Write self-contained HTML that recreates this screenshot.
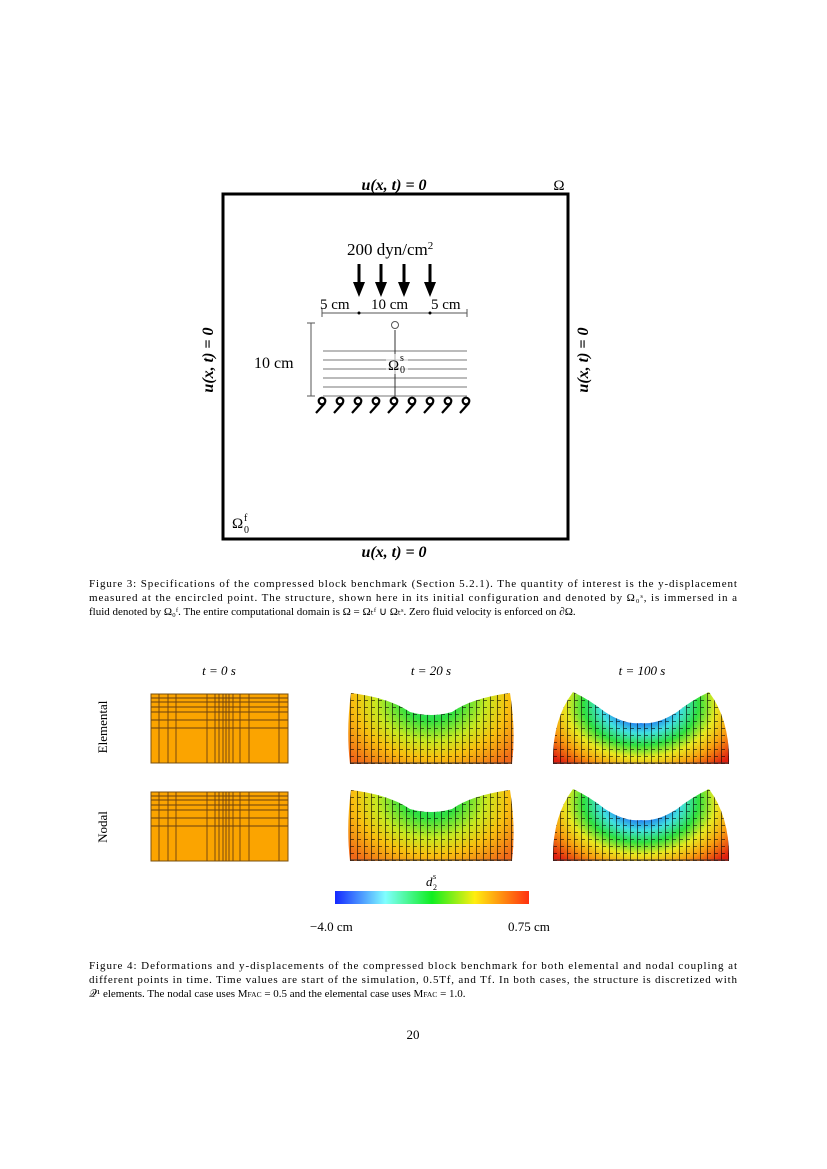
<!DOCTYPE html>
<html><head><meta charset="utf-8"><style>
html,body{margin:0;padding:0;background:#fff}
svg{display:block}
text{font-family:"Liberation Serif",serif;fill:#000}
.cap{font-size:11px}
</style></head><body>
<svg width="827" height="1169" viewBox="0 0 827 1169" xmlns="http://www.w3.org/2000/svg">
<defs>
<linearGradient id="cb" x1="0" x2="1" y1="0" y2="0">
<stop offset="0" stop-color="#1428ff"/><stop offset="0.26" stop-color="#80ffff"/><stop offset="0.5" stop-color="#10ee20"/><stop offset="0.72" stop-color="#ffee10"/><stop offset="1" stop-color="#ff3010"/>
</linearGradient>
<radialGradient id="g20" gradientUnits="userSpaceOnUse" cx="431" cy="700" r="110" gradientTransform="translate(431 700) scale(1 0.75) translate(-431 -700)">
<stop offset="0" stop-color="#20e080"/><stop offset="0.25" stop-color="#30e040"/><stop offset="0.5" stop-color="#c8e820"/><stop offset="0.7" stop-color="#f8c010"/><stop offset="1" stop-color="#f06818"/>
</radialGradient>
<radialGradient id="g100" gradientUnits="userSpaceOnUse" cx="641" cy="705" r="115" gradientTransform="translate(641 705) scale(1 0.7) translate(-641 -705)">
<stop offset="0" stop-color="#1020d0"/><stop offset="0.2" stop-color="#2070f0"/><stop offset="0.35" stop-color="#40e0e0"/><stop offset="0.5" stop-color="#30e040"/><stop offset="0.65" stop-color="#e8e820"/><stop offset="0.8" stop-color="#f8a010"/><stop offset="1" stop-color="#e02010"/>
</radialGradient>
<pattern id="mesh" width="7" height="7" patternUnits="userSpaceOnUse">
<path d="M0.5 0V7M0 0.5H4" stroke="#000" stroke-width="0.8" opacity="0.75" fill="none"/>
</pattern>
</defs>

<rect x="223" y="194" width="345" height="345" fill="none" stroke="#000" stroke-width="3"/>
<text x="394" y="190" font-size="16" font-weight="bold" font-style="italic" text-anchor="middle">u(x, t) = 0</text>
<text x="394" y="557" font-size="16" font-weight="bold" font-style="italic" text-anchor="middle">u(x, t) = 0</text>
<text x="559" y="190" font-size="15" text-anchor="middle">Ω</text>
<text transform="translate(213 360) rotate(-90)" font-size="16" font-weight="bold" font-style="italic" text-anchor="middle">u(x, t) = 0</text>
<text transform="translate(588 360) rotate(-90)" font-size="16" font-weight="bold" font-style="italic" text-anchor="middle">u(x, t) = 0</text>
<text x="232" y="528" font-size="15">Ω</text><text x="244" y="521" font-size="10">f</text><text x="244" y="533" font-size="10">0</text>
<text x="347" y="255" font-size="17">200 dyn/cm<tspan font-size="11" dy="-6">2</tspan></text>
<g fill="#000" stroke="#000">
<g stroke-width="3"><line x1="359" y1="264" x2="359" y2="284"/><line x1="381" y1="264" x2="381" y2="284"/><line x1="404" y1="264" x2="404" y2="284"/><line x1="430" y1="264" x2="430" y2="284"/></g>
<g stroke="none"><polygon points="353,282 365,282 359,297"/><polygon points="375,282 387,282 381,297"/><polygon points="398,282 410,282 404,297"/><polygon points="424,282 436,282 430,297"/></g>
</g>
<text x="320" y="309" font-size="15">5 cm</text><text x="371" y="309" font-size="15">10 cm</text><text x="431" y="309" font-size="15">5 cm</text>
<line x1="322" y1="313" x2="467" y2="313" stroke="#555" stroke-width="1"/>
<line x1="322" y1="309" x2="322" y2="317" stroke="#555"/><line x1="467" y1="309" x2="467" y2="317" stroke="#555"/>
<circle cx="359" cy="313" r="1.5"/><circle cx="430" cy="313" r="1.5"/>
<line x1="311" y1="323" x2="311" y2="396" stroke="#555"/><line x1="307" y1="323" x2="315" y2="323" stroke="#555"/><line x1="307" y1="396" x2="315" y2="396" stroke="#555"/>
<text x="254" y="368" font-size="16">10 cm</text>
<g stroke="#777" stroke-width="1">
<line x1="323" y1="351" x2="467" y2="351"/><line x1="323" y1="360" x2="467" y2="360"/><line x1="323" y1="369" x2="467" y2="369"/><line x1="323" y1="378" x2="467" y2="378"/><line x1="323" y1="387" x2="467" y2="387"/><line x1="323" y1="396" x2="467" y2="396"/>
</g>
<line x1="395" y1="330" x2="395" y2="397" stroke="#333"/>
<circle cx="395" cy="325" r="3.5" fill="#fff" stroke="#555"/>
<rect x="386" y="354" width="22" height="20" fill="#fff" opacity="0.6"/>
<text x="388" y="370" font-size="15" fill="#444">Ω</text><text x="400" y="361" font-size="10">s</text><text x="400" y="373" font-size="10">0</text>
<g stroke="#000" stroke-width="2.2" fill="none">
<g id="sup"><circle cx="322" cy="401" r="3.3"/><path d="M325 403 L316 413"/></g>
<use href="#sup" x="18"/><use href="#sup" x="36"/><use href="#sup" x="54"/><use href="#sup" x="72"/><use href="#sup" x="90"/><use href="#sup" x="108"/><use href="#sup" x="126"/><use href="#sup" x="144"/>
</g>

<text class="cap" x="89" y="587" textLength="648" lengthAdjust="spacing">Figure 3:   Specifications of the compressed block benchmark (Section 5.2.1). The quantity of interest is the y-displacement</text>
<text class="cap" x="89" y="601" textLength="648" lengthAdjust="spacing">measured at the encircled point. The structure, shown here in its initial configuration and denoted by Ω₀ˢ, is immersed in a</text>
<text class="cap" x="89" y="615">fluid denoted by Ω₀ᶠ. The entire computational domain is Ω = Ωₜᶠ ∪ Ωₜˢ. Zero fluid velocity is enforced on ∂Ω.</text>

<text x="219" y="675" font-size="13" text-anchor="middle" font-style="italic">t = 0 s</text>
<text x="431" y="675" font-size="13" text-anchor="middle" font-style="italic">t = 20 s</text>
<text x="642" y="675" font-size="13" text-anchor="middle" font-style="italic">t = 100 s</text>
<text transform="translate(107 727) rotate(-90)" font-size="13" text-anchor="middle">Elemental</text>
<text transform="translate(107 827) rotate(-90)" font-size="13" text-anchor="middle">Nodal</text>

<g id="b0">
<rect x="151" y="694" width="137" height="69" fill="#fba400" stroke="#7a5010" stroke-width="1"/>
<g stroke="#6a4010" stroke-width="0.9">
<path d="M159 694V763M168 694V763M176 694V763M207 694V763M215 694V763M219 694V763M223 694V763M226 694V763M229 694V763M233 694V763M240 694V763M249 694V763M279 694V763"/>
<path d="M151 698H288M151 702H288M151 707H288M151 712H288M151 720H288M151 728H288"/>
</g>
</g>
<use href="#b0" y="98"/>

<g id="s20">
<path d="M351 693 Q390 698 410 712 Q431 718 452 712 Q472 698 510 693 Q516 730 512 764 L350 764 Q346 730 351 693Z" fill="url(#g20)"/>
<path d="M351 693 Q390 698 410 712 Q431 718 452 712 Q472 698 510 693 Q516 730 512 764 L350 764 Q346 730 351 693Z" fill="url(#mesh)"/>
<line x1="350" y1="763" x2="512" y2="763" stroke="#333"/>
</g>
<use href="#s20" y="97"/>

<g id="s100">
<path d="M573 692 Q590 700 605 712 Q625 725 641 723 Q657 725 677 712 Q692 700 709 692 Q730 720 729 764 L553 764 Q552 720 573 692Z" fill="url(#g100)"/>
<path d="M573 692 Q590 700 605 712 Q625 725 641 723 Q657 725 677 712 Q692 700 709 692 Q730 720 729 764 L553 764 Q552 720 573 692Z" fill="url(#mesh)"/>
<line x1="553" y1="763" x2="729" y2="763" stroke="#333"/>
</g>
<use href="#s100" y="97"/>

<text x="426" y="886" font-size="13" font-style="italic">d</text><text x="433" y="879" font-size="8">s</text><text x="433" y="890" font-size="8">2</text>
<rect x="335" y="891" width="194" height="13" fill="url(#cb)"/>
<text x="310" y="931" font-size="13">−4.0 cm</text>
<text x="508" y="931" font-size="13">0.75 cm</text>

<text class="cap" x="89" y="969" textLength="648" lengthAdjust="spacing">Figure 4:  Deformations and y-displacements of the compressed block benchmark for both elemental and nodal coupling at</text>
<text class="cap" x="89" y="983" textLength="648" lengthAdjust="spacing">different points in time. Time values are start of the simulation, 0.5Tf, and Tf. In both cases, the structure is discretized with</text>
<text class="cap" x="89" y="997">𝒬¹ elements. The nodal case uses M<tspan font-size="7.5">FAC</tspan> = 0.5 and the elemental case uses M<tspan font-size="7.5">FAC</tspan> = 1.0.</text>

<text x="413" y="1039" font-size="13" text-anchor="middle">20</text>
</svg>
</body></html>
